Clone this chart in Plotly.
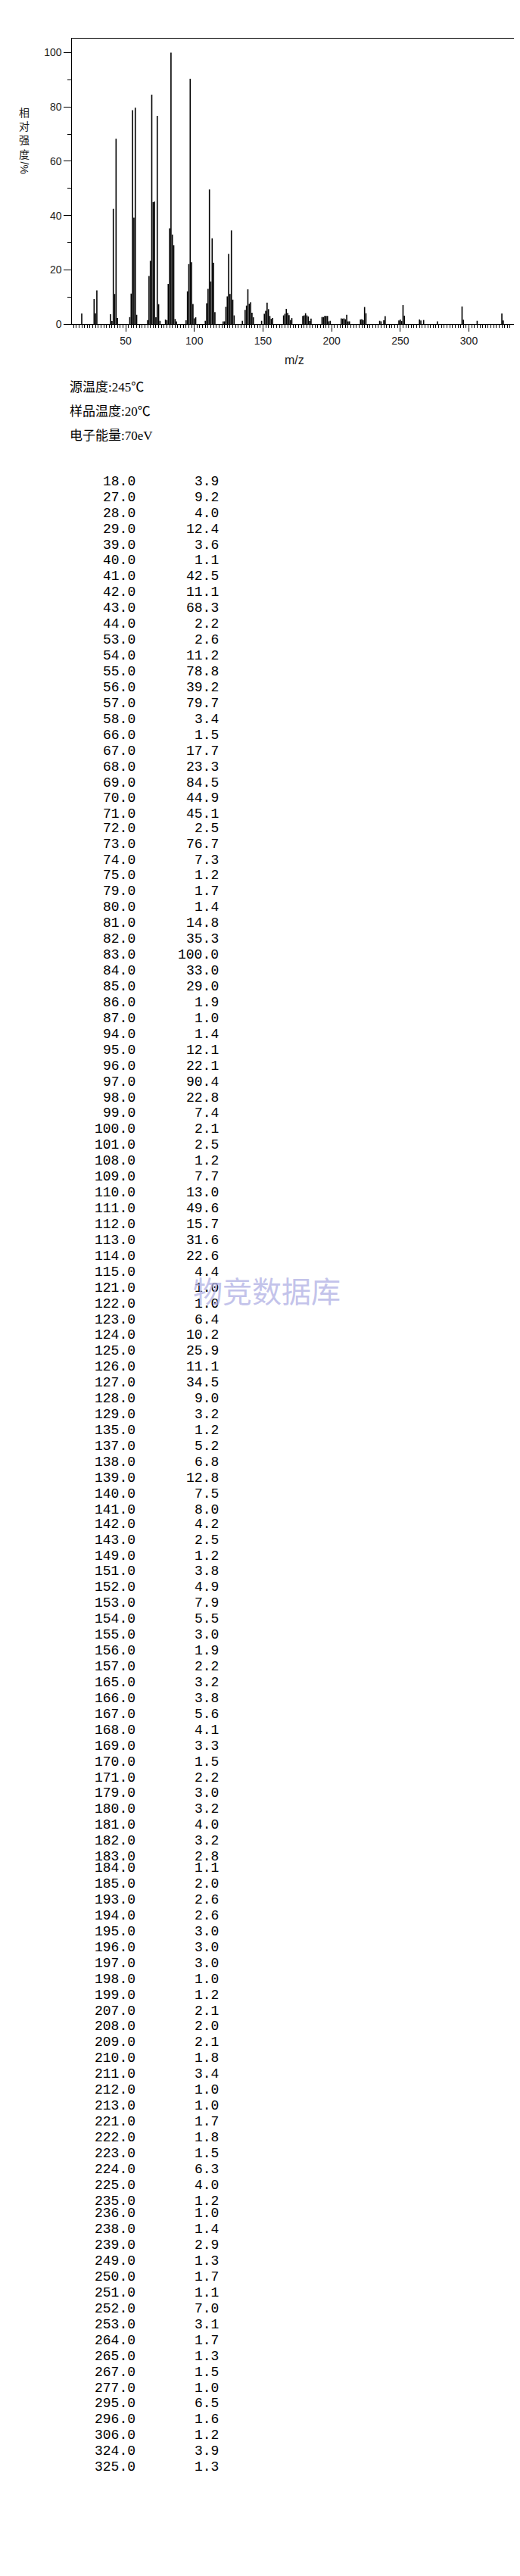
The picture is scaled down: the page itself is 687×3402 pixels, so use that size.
import plotly.graph_objects as go

# ---------------- data ----------------
masses = [18, 27, 28, 29, 39, 40, 41, 42, 43, 44, 53, 54, 55, 56, 57, 58, 66, 67, 68,
          69, 70, 71, 72, 73, 74, 75, 79, 80, 81, 82, 83, 84, 85, 86, 87, 94, 95, 96, 97,
          98, 99, 100, 101, 108, 109, 110, 111, 112, 113, 114, 115, 121, 122, 123, 124, 125, 126, 127, 128,
          129, 135, 137, 138, 139, 140, 141, 142, 143, 149, 151, 152, 153, 154, 155, 156, 157, 165, 166, 167,
          168, 169, 170, 171, 179, 180, 181, 182, 183, 184, 185, 193, 194, 195, 196, 197, 198, 199, 207, 208,
          209, 210, 211, 212, 213, 221, 222, 223, 224, 225, 235, 236, 238, 239, 249, 250, 251, 252, 253, 264, 265,
          267, 277, 295, 296, 306, 324, 325]
intensities = [3.9, 9.2, 4.0, 12.4, 3.6, 1.1, 42.5, 11.1, 68.3, 2.2, 2.6, 11.2, 78.8, 39.2, 79.7, 3.4, 1.5, 17.7, 23.3,
               84.5, 44.9, 45.1, 2.5, 76.7, 7.3, 1.2, 1.7, 1.4, 14.8, 35.3, 100.0, 33.0, 29.0, 1.9, 1.0, 1.4, 12.1, 22.1, 90.4,
               22.8, 7.4, 2.1, 2.5, 1.2, 7.7, 13.0, 49.6, 15.7, 31.6, 22.6, 4.4, 1.0, 1.0, 6.4, 10.2, 25.9, 11.1, 34.5, 9.0,
               3.2, 1.2, 5.2, 6.8, 12.8, 7.5, 8.0, 4.2, 2.5, 1.2, 3.8, 4.9, 7.9, 5.5, 3.0, 1.9, 2.2, 3.2, 3.8, 5.6,
               4.1, 3.3, 1.5, 2.2, 3.0, 3.2, 4.0, 3.2, 2.8, 1.1, 2.0, 2.6, 2.6, 3.0, 3.0, 3.0, 1.0, 1.2, 2.1, 2.0,
               2.1, 1.8, 3.4, 1.0, 1.0, 1.7, 1.8, 1.5, 6.3, 4.0, 1.2, 1.0, 1.4, 2.9, 1.3, 1.7, 1.1, 7.0, 3.1, 1.7, 1.3,
               1.5, 1.0, 6.5, 1.6, 1.2, 3.9, 1.3]
x_major_ticks = [50, 100, 150, 200, 250, 300]
info_lines = ["源温度:245℃", "样品温度:20℃", "电子能量:70eV"]
y_title_chars = ["相", "对", "强", "度"]
y_title_tail = "/%"
x_title = "m/z"
watermark = "物竞数据库"

# ---------------- layout constants ----------------
W, H = 687, 3402
PLOT_L, PLOT_R, PLOT_T, PLOT_B = 87.3, 675.0, 43.3, 421.0
ROW0_Y, ROW_STEP = 629.3, 20.98
ROW_SQUEEZE_AFTER = {71: 2.6, 141: 2.0, 183: 6.0, 235: 4.3}
MASS_COL_RIGHT, INT_COL_RIGHT = 171.5, 282.0


def fx(px):
    return px / W


def fy(py):
    return 1 - py / H


# stick spectrum from the data
xs, ys = [], []
for m, v in zip(masses, intensities):
    xs += [m, m, None]
    ys += [0, v, None]

fig = go.Figure(go.Scatter(x=xs, y=ys, mode="lines",
                           line=dict(color="black", width=1.6),
                           hoverinfo="skip", showlegend=False))

tick_font = dict(family="Liberation Sans, Arial, sans-serif", size=14, color="#1a1a1a")

fig.update_layout(
    width=W, height=H,
    margin=dict(l=0, r=0, t=0, b=0),
    paper_bgcolor="white", plot_bgcolor="white",
    showlegend=False,
    xaxis=dict(domain=[fx(PLOT_L), fx(PLOT_R)], range=[11, 335],
               showline=True, mirror=True, linecolor="black", linewidth=1,
               showgrid=False, zeroline=False,
               tickmode="array", tickvals=x_major_ticks,
               ticks="outside", ticklen=9, tickcolor="black", tickwidth=1,
               tickfont=tick_font,
               minor=dict(tickmode="array", tickvals=list(range(12, 331, 2)),
                          ticks="outside", ticklen=4, tickcolor="black", tickwidth=1,
                          showgrid=False)),
    yaxis=dict(domain=[fy(PLOT_B), fy(PLOT_T)], range=[0, 105.1],
               showline=True, mirror=True, linecolor="black", linewidth=1,
               showgrid=False, zeroline=False,
               tick0=0, dtick=20,
               ticks="outside", ticklen=10, tickcolor="black", tickwidth=1,
               tickfont=tick_font,
               minor=dict(dtick=10, ticks="outside", ticklen=5, tickcolor="black",
                          tickwidth=1, showgrid=False)),
)

ann = []
# axis titles
ann.append(dict(xref="paper", yref="paper", x=fx(381), y=fy(469), text=x_title,
                showarrow=False, xanchor="center", yanchor="middle",
                font=dict(family="Liberation Sans, Arial, sans-serif", size=16, color="#1a1a1a")))
ann.append(dict(xref="paper", yref="paper", x=fx(24), y=fy(168), text="<br>".join(y_title_chars),
                showarrow=False, xanchor="center", yanchor="middle",
                font=dict(family="Noto Sans CJK SC", size=14, color="#1a1a1a")))
ann.append(dict(xref="paper", yref="paper", x=fx(24), y=fy(214), text=y_title_tail,
                showarrow=False, xanchor="center", yanchor="middle", textangle=90,
                font=dict(family="Liberation Sans, Arial, sans-serif", size=14, color="#1a1a1a")))

# instrument info
for i, line in enumerate(info_lines):
    ann.append(dict(xref="paper", yref="paper", x=fx(82), y=fy(505 + i * 31.7), text=line,
                    showarrow=False, xanchor="left", yanchor="middle",
                    font=dict(family="Liberation Serif, Noto Sans CJK SC", size=17, color="black")))

# peak table
mono = dict(family="Liberation Mono, Courier New, monospace", size=18, color="black")
y = ROW0_Y
for i, (m, v) in enumerate(zip(masses, intensities)):
    if i > 0:
        y += ROW_STEP - ROW_SQUEEZE_AFTER.get(masses[i - 1], 0)
    ann.append(dict(xref="paper", yref="paper", x=fx(MASS_COL_RIGHT), y=fy(y), text=f"{m:.1f}",
                    showarrow=False, xanchor="right", yanchor="middle", font=mono, borderpad=0))
    ann.append(dict(xref="paper", yref="paper", x=fx(INT_COL_RIGHT), y=fy(y), text=f"{v:.1f}",
                    showarrow=False, xanchor="right", yanchor="middle", font=mono, borderpad=0))

# watermark (overlays the table, as in the reference)
ann.append(dict(xref="paper", yref="paper", x=fx(344), y=fy(1699), text=watermark,
                showarrow=False, xanchor="center", yanchor="middle",
                font=dict(family="Noto Sans CJK SC", size=39, color="rgba(175,175,228,0.75)")))

fig.update_layout(annotations=ann)
fig.write_html("out.html")
